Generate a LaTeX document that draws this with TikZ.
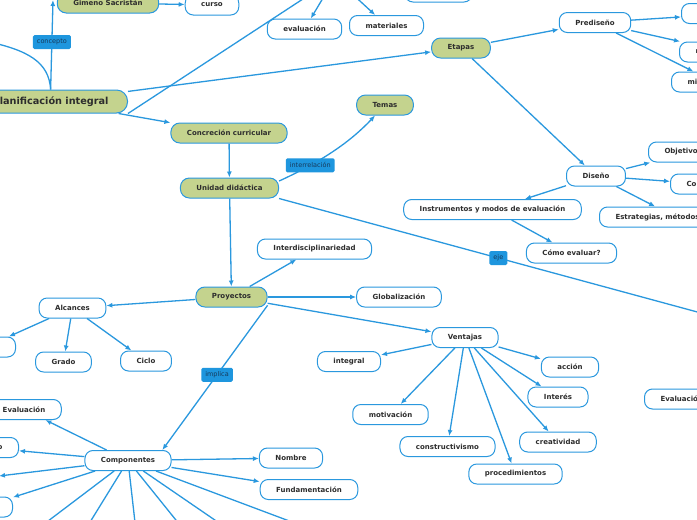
\documentclass[tikz,border=0pt]{standalone}
\usepackage{fontspec}
\setmainfont{DejaVu Sans}
\usetikzlibrary{arrows.meta}
\definecolor{mapblue}{RGB}{42,152,222}
\definecolor{mapgreen}{RGB}{196,211,142}
\definecolor{tagblue}{RGB}{30,150,222}
\definecolor{tagtext}{RGB}{22,58,92}
\definecolor{inkgray}{RGB}{45,45,45}

\begin{document}
\begin{tikzpicture}[x=1pt, y=-1pt,
        topic/.style={rectangle, rounded corners=9pt, draw=mapblue, line width=1pt, fill=mapgreen, text=inkgray, font=\fontsize{7}{8}\selectfont\bfseries, minimum height=20pt, inner xsep=16pt},
        leaf/.style={rectangle, rounded corners=8pt, draw=mapblue, line width=1pt, fill=white, text=inkgray, font=\fontsize{7}{8}\selectfont\bfseries, minimum height=20pt, inner xsep=16pt},
        tag/.style={rectangle, rounded corners=1.5pt, fill=tagblue, text=tagtext, font=\fontsize{6.5}{7}\selectfont, minimum height=14pt, inner xsep=4pt},
        link/.style={draw=mapblue, line width=1.3pt, -{Latex[length=6pt,width=5pt]}}]

        \useasboundingbox (0,0) rectangle (697,520);
        \clip (0,0) rectangle (697,520);
        \fill[white] (0,0) rectangle (697,520);

        \node[topic, anchor=east, font=\fontsize{9.7}{11}\selectfont\bfseries, minimum height=23pt, rounded corners=11pt, inner xsep=19pt] (plan) at (128,101.5) {Planificación integral};
        \node[topic] (gimeno) at (108,3) {Gimeno Sacristán};
        \node[leaf] (curso) at (212,5) {curso};
        \node[leaf] (evaluacion) at (304.5,29) {evaluación};
        \node[leaf] (materiales) at (386.5,25.5) {materiales};
        \node[leaf, minimum width=67pt] (topbox) at (438.5,-8) {};
        \node[topic] (concrecion) at (229,133) {Concreción curricular};
        \node[topic] (unidad) at (229.5,188) {Unidad didáctica};
        \node[topic] (temas) at (385,105) {Temas};
        \node[topic] (etapas) at (461,48) {Etapas};

        \node[leaf] (prediseno) at (595,22.5) {Prediseño};
        \node[leaf, anchor=west, minimum width=106pt] (preA) at (681,13.5) {};
        \node[leaf, anchor=west, text width=63pt, align=left] (preB) at (679,52) {r};
        \node[leaf, anchor=west, text width=54pt, align=left] (preC) at (671,82) {mi};
        \node[leaf] (diseno) at (596,176) {Diseño};
        \node[leaf, anchor=west, text width=56pt, align=left] (objetivos) at (648,152) {Objetivos};
        \node[leaf, anchor=west, text width=40pt, align=left] (diseCo) at (670,184) {Co};
        \node[leaf, anchor=west, text width=120pt, align=left] (estrategias) at (599,217) {Estrategias, métodos};
        \node[leaf] (instrumentos) at (492.5,209.5) {Instrumentos y modos de evaluación};
        \node[leaf] (comoeval) at (571.5,253) {Cómo evaluar?};
        \node[leaf, anchor=west, text width=50pt, align=left] (evalR) at (644,399) {Evaluación};

        \node[topic] (proyectos) at (231.5,297) {Proyectos};
        \node[leaf] (interdis) at (314.5,249) {Interdisciplinariedad};
        \node[leaf] (globaliz) at (399,297) {Globalización};
        \node[leaf] (ventajas) at (465,337.5) {Ventajas};
        \node[leaf] (integral) at (349,361.5) {integral};
        \node[leaf] (accion) at (570,367) {acción};
        \node[leaf] (interes) at (558,397) {Interés};
        \node[leaf] (motivacion) at (390.5,414.5) {motivación};
        \node[leaf] (construct) at (447.5,446.5) {constructivismo};
        \node[leaf] (procedim) at (515.5,474) {procedimientos};
        \node[leaf] (creativ) at (558,442) {creatividad};

        \node[leaf] (alcances) at (72.5,308) {Alcances};
        \node[leaf, anchor=east, minimum width=60pt] (alcL) at (16,347) {};
        \node[leaf] (grado) at (63.5,362) {Grado};
        \node[leaf] (ciclo) at (146,361) {Ciclo};

        \node[leaf] (componentes) at (128,460.5) {Componentes};
        \node[leaf] (compEval) at (24,409.5) {Evaluación};
        \node[leaf, anchor=east, text width=40pt, align=right] (compO) at (19,447.5) {o};
        \node[leaf, anchor=east, minimum width=60pt] (compLow) at (13,507) {};
        \node[leaf] (nombre) at (291,458) {Nombre};
        \node[leaf] (fundam) at (309,489.5) {Fundamentación};

        \coordinate (hubTop) at (53,0);
        \coordinate (hubLeft) at (-20,40);
        \coordinate (hubUp) at (335,-22);
        \coordinate (hubRight) at (760,329);
        \coordinate (compL) at (-1,476);
        \coordinate (compB1) at (23,540);
        \coordinate (compB2) at (79,540);
        \coordinate (compB3) at (137,540);
        \coordinate (compB4) at (192,540);
        \coordinate (compB5) at (244,540);
        \coordinate (compB6) at (340,540);

        \draw[link] (plan.north) -- (hubTop) node[tag, pos=0.53] (tagConcepto) {concepto};
        \draw[link] (plan.north) .. controls (49,62) and (28,50) .. (hubLeft);
        \draw[link] (plan.south east) -- (hubUp);
        \draw[link] (hubUp) -- (evaluacion);
        \draw[link] (hubUp) -- (materiales);
        \draw[link] (gimeno) -- (curso);
        \draw[link] (plan) -- (etapas);
        \draw[link] (plan) -- (concrecion);
        \draw[link] (concrecion) -- (unidad);
        \draw[link] (unidad.8) .. controls (325,160) and (352,140) .. (temas) node[tag, pos=0.25] (tagInter) {interrelación};
        \draw[link] (unidad.south east) -- (hubRight) node[tag, pos=0.456] (tagEje) {eje};
        \draw[link] (unidad) -- (proyectos);

        \draw[link] (etapas) -- (prediseno);
        \draw[link] (etapas) -- (diseno);
        \draw[link] (prediseno) -- (preA);
        \draw[link] (prediseno) -- (preB);
        \draw[link] (prediseno) -- (preC);
        \draw[link] (diseno) -- (objetivos);
        \draw[link] (diseno) -- (diseCo);
        \draw[link] (diseno) -- (estrategias);
        \draw[link] (diseno) -- (instrumentos);
        \draw[link] (instrumentos) -- (comoeval);
        \draw[link] (hubRight) -- (evalR);

        \draw[link] (proyectos) -- (interdis);
        \draw[link] (proyectos) -- (globaliz);
        \draw[link] (proyectos) -- (ventajas);
        \draw[link] (proyectos) -- (alcances);
        \draw[link] (proyectos.-13) -- (componentes.17) node[tag, pos=0.48] (tagImplica) {implica};

        \draw[link] (ventajas) -- (integral);
        \draw[link] (ventajas) -- (accion);
        \draw[link] (ventajas) -- (interes);
        \draw[link] (ventajas) -- (motivacion);
        \draw[link] (ventajas) -- (construct);
        \draw[link] (ventajas) -- (procedim);
        \draw[link] (ventajas) -- (creativ);

        \draw[link] (alcances) -- (alcL);
        \draw[link] (alcances) -- (grado);
        \draw[link] (alcances) -- (ciclo);

        \draw[link] (componentes) -- (compEval);
        \draw[link] (componentes) -- (compO);
        \draw[link] (componentes) -- (compL);
        \draw[link] (componentes) -- (compLow);
        \draw[link] (componentes) -- (nombre);
        \draw[link] (componentes) -- (fundam);
        \draw[link] (componentes) -- (compB1);
        \draw[link] (componentes) -- (compB2);
        \draw[link] (componentes) -- (compB3);
        \draw[link] (componentes) -- (compB4);
        \draw[link] (componentes) -- (compB5);
        \draw[link] (componentes) -- (compB6);
    \end{tikzpicture}
\end{document}
